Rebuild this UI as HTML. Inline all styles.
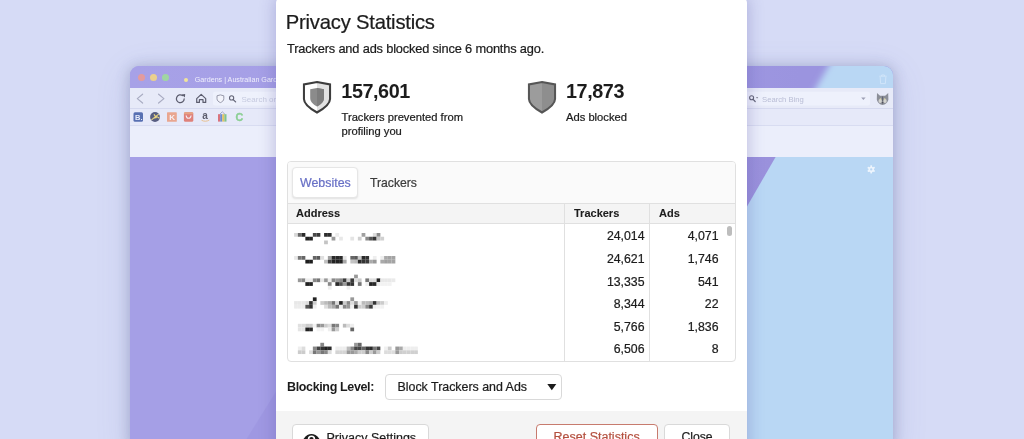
<!DOCTYPE html>
<html><head><meta charset="utf-8"><title>Privacy Statistics</title>
<style>
html,body{margin:0;padding:0}
body{width:1024px;height:439px;overflow:hidden;position:relative;background:#d6dbf6;font-family:"Liberation Sans",Arial,sans-serif;color:#1b1b1b}
.a{position:absolute}
.t{position:absolute;white-space:nowrap;line-height:1;-webkit-text-stroke:0.22px currentColor}
#win{left:130px;top:66px;width:763px;height:380px;border-radius:9px 9px 0 0;overflow:hidden;background:#a59fe6;box-shadow:0 8px 34px 2px rgba(90,100,170,.13),0 1px 13px 1px rgba(70,80,130,.30)}
#modal{left:275.7px;top:-3px;width:471px;height:460px;background:#fff;border-radius:6px;box-shadow:0 0 16px 1px rgba(70,60,150,.28)}
.num{font-size:12.3px;color:#1c1c1c}
</style></head><body>

<div id="win" class="a">
  <!-- title bar gradient -->
  <div class="a" style="left:0;top:0;width:763px;height:23px;background:linear-gradient(90deg,#a7a1e7 0,#a39de5 420px,#9b94df 670px)"></div>
  <svg class="a" style="left:560px;top:0" width="203" height="23" viewBox="560 0 203 23"><defs><filter id="bl" x="-20%" y="-100%" width="140%" height="300%"><feGaussianBlur stdDeviation="3.2"/></filter></defs><polygon points="716,-30 800,-30 800,60 664,60" fill="#b9d7f4" filter="url(#bl)"/></svg>
  <div class="a" style="left:7.8px;top:8px;width:7px;height:7px;border-radius:50%;background:#e39b9e"></div>
  <div class="a" style="left:19.8px;top:8px;width:7px;height:7px;border-radius:50%;background:#ebd08d"></div>
  <div class="a" style="left:31.8px;top:8px;width:7px;height:7px;border-radius:50%;background:#a0d6a3"></div>
  <div class="a" style="left:53.7px;top:11.9px;width:4px;height:4px;border-radius:50%;background:#f1e49b"></div>
  <div class="t" style="left:64.8px;top:11.1px;font-size:7.15px;-webkit-text-stroke:0;color:#f0f0fd">Gardens | Australian Gardens</div>
  <!-- toolbar -->
  <div class="a" style="left:0;top:22px;width:763px;height:21px;background:#e7eaf8"></div>
  <div class="a" style="left:0;top:41.8px;width:763px;height:1px;background:#d5d9ef"></div>
  <div class="a" style="left:0;top:42.8px;width:763px;height:18px;background:#e6e9f9"></div>
  <div class="a" style="left:0;top:59.4px;width:763px;height:1px;background:#d8dcf1"></div>
  <div class="a" style="left:0;top:60.4px;width:763px;height:31px;background:#ebeefb"></div>
  <!-- page content -->
  <div class="a" style="left:0;top:90.5px;width:763px;height:300px;background:linear-gradient(90deg,#a59fe6 0,#a59fe6 25%,#9a91dc 84%)"></div>
  <svg class="a" style="left:0;top:90.5px" width="763" height="300"><polygon points="645.6,0 763,0 763,300 472.5,300" fill="#b9d7f4"/></svg>
</div>

<svg class="a" style="left:230px;top:380px" width="50" height="60" viewBox="230 380 50 60"><polygon points="277,390 277,440 246,440" fill="#9c95e0" opacity=".7"/></svg>

<!-- browser chrome icons -->
<svg class="a" id="chrome" style="left:0;top:0" width="1024" height="200" viewBox="0 0 1024 200">
  <!-- url field -->
  <rect x="213" y="91.8" width="180" height="13.8" rx="2" fill="#eef1fc"/>
  <!-- search field -->
  <rect x="600" y="91.8" width="270" height="13.8" rx="2" fill="#eef1fc"/>
  <!-- back / forward -->
  <polyline points="142.6,94.2 137.3,98.6 142.6,103" fill="none" stroke="#a9acc2" stroke-width="1.2" stroke-linecap="round" stroke-linejoin="round"/>
  <polyline points="158.6,94.2 163.9,98.6 158.6,103" fill="none" stroke="#a9acc2" stroke-width="1.2" stroke-linecap="round" stroke-linejoin="round"/>
  <!-- reload -->
  <path d="M184.2,98.8 A3.9,3.9 0 1 1 182.6,95.6" fill="none" stroke="#5c5d6e" stroke-width="1.25" stroke-linecap="round"/>
  <path d="M181.6,94.4 L185.2,94 L184.9,97.6 Z" fill="#5c5d6e"/>
  <!-- home -->
  <path d="M196.7,98.6 L201.2,94.4 L205.7,98.6 L205.7,102.4 L203,102.4 L203,99.6 L199.4,99.6 L199.4,102.4 L196.7,102.4 Z" fill="none" stroke="#5c5d6e" stroke-width="1.2" stroke-linejoin="round"/>
  <!-- small shield -->
  <path d="M220.4,94.9 L223.8,95.8 L223.8,98.6 C223.8,100.6 222.3,101.8 220.4,102.6 C218.5,101.8 217,100.6 217,98.6 L217,95.8 Z" fill="#f3f4fb" stroke="#8d8fa0" stroke-width="0.9" stroke-linejoin="round"/>
  <!-- magnifier -->
  <circle cx="231.6" cy="97.9" r="2.1" fill="none" stroke="#636476" stroke-width="1.1"/>
  <line x1="233.2" y1="99.6" x2="235.6" y2="101.9" stroke="#636476" stroke-width="1.3" stroke-linecap="round"/>
  <text x="241.5" y="101.8" font-family="Liberation Sans, sans-serif" font-size="8" fill="#c6cadf">Search or</text>
  <!-- bookmarks -->
  <rect x="133.5" y="112.3" width="9.5" height="9.5" rx="1.5" fill="#5870b2"/>
  <text x="135" y="120.2" font-family="Liberation Sans, sans-serif" font-size="7.5" font-weight="700" fill="#e8ecfa">B.</text>
  <circle cx="155" cy="117" r="4.9" fill="#585e82"/>
  <path d="M151.8,119.6 L158.4,114.4 M154.2,114.6 L156.2,117.6 L153.2,118.2 M156.6,116.4 L159,118" fill="none" stroke="#ead684" stroke-width="1.1" stroke-linecap="round"/>
  <rect x="167" y="112.3" width="9.8" height="9.5" rx="0.6" fill="#e9a690"/>
  <text x="169.2" y="120.2" font-family="Liberation Sans, sans-serif" font-size="8" font-weight="700" fill="#f6f1f6">K</text>
  <rect x="183.9" y="112.3" width="9.4" height="9.5" rx="1.5" fill="#df817a"/>
  <rect x="183.9" y="112.3" width="9.4" height="2" rx="1" fill="#e6a283"/>
  <path d="M186.2,115.8 C186.8,119 190.4,119 191,115.8" fill="none" stroke="#f5ecf2" stroke-width="1.1" stroke-linecap="round"/>
  <text x="202.3" y="119.2" font-family="Liberation Sans, sans-serif" font-size="10" font-weight="700" fill="#5d5e6e">a</text>
  <path d="M201.8,120.4 C203.6,121.6 207,121.6 209,120.2" fill="none" stroke="#e9b877" stroke-width="0.8" stroke-linecap="round"/>
  <path d="M219.6,114.4 L222.3,111.8 L225,114.4" fill="none" stroke="#9aa0bc" stroke-width="0.9" stroke-linejoin="round"/>
  <rect x="218" y="114.2" width="2.2" height="7.4" fill="#da737d"/>
  <rect x="220.2" y="114.2" width="2.1" height="7.4" fill="#6d8cd2"/>
  <rect x="222.3" y="114.2" width="2.1" height="7.4" fill="#e3c45f"/>
  <rect x="224.4" y="114.2" width="2.1" height="7.4" fill="#80c38e"/>
  <text x="235.4" y="121" font-family="Liberation Sans, sans-serif" font-size="10.8" font-weight="700" fill="#8ccf95" stroke="#8ccf95" stroke-width="0.3">C</text>
  <!-- right side: search bing -->
  <circle cx="751.6" cy="97.8" r="2" fill="none" stroke="#636476" stroke-width="1.1"/>
  <line x1="753.1" y1="99.4" x2="755.2" y2="101.5" stroke="#636476" stroke-width="1.2" stroke-linecap="round"/>
  <path d="M756,97.2 L758.2,97.2 L757.1,98.5 Z" fill="#636476"/>
  <text x="762" y="101.6" font-family="Liberation Sans, sans-serif" font-size="7.7" fill="#b9bdd5">Search Bing</text>
  <path d="M861.2,97.6 L865.6,97.6 L863.4,100 Z" fill="#9c9fb4"/>
  <!-- cat avatar -->
  <path d="M877,93.1 L880,95.8 L885.2,95.8 L888.2,93.1 L888.4,99.5 C888,102.5 885,104.9 882.6,104.9 C880.2,104.9 877.2,102.5 876.8,99.5 Z" fill="#8b8e98"/>
  <ellipse cx="880.2" cy="101" rx="1.7" ry="2.1" fill="#d3d3cf"/><ellipse cx="885" cy="101" rx="1.7" ry="2.1" fill="#d3d3cf"/>
  <rect x="882.1" y="96.4" width="1" height="5" fill="#60626d"/>
  <circle cx="880.5" cy="99" r="0.8" fill="#ddd7a4"/><circle cx="884.7" cy="99" r="0.8" fill="#ddd7a4"/>
  <circle cx="882.6" cy="102.8" r="0.8" fill="#4a4b55"/>
  <!-- trash -->
  <path d="M879.6,76.2 L886.4,76.2 M881.6,76 L881.6,75 L884.4,75 L884.4,76 M880.2,77.4 L880.6,83.6 L885.4,83.6 L885.8,77.4" fill="none" stroke="#d2e5f9" stroke-width="0.9" stroke-linecap="round" stroke-linejoin="round"/>
  <!-- gear -->
  <g transform="translate(871.2,169.4) scale(0.88)" fill="#eef5fd">
    <circle r="3.1"/>
    <g><rect x="-1" y="-4.6" width="2" height="9.2" rx="0.5"/><rect x="-1" y="-4.6" width="2" height="9.2" rx="0.5" transform="rotate(60)"/><rect x="-1" y="-4.6" width="2" height="9.2" rx="0.5" transform="rotate(120)"/></g>
    <circle r="1.3" fill="#b9d7f4"/>
  </g>
</svg>

<div id="modal" class="a"></div>

<!-- heading -->
<div class="t" id="h1" style="left:285.8px;top:12px;font-size:20.2px;letter-spacing:-0.2px;color:#1c1c1c">Privacy Statistics</div>
<div class="t" id="sub" style="left:287px;top:42.7px;font-size:12.8px;letter-spacing:-0.16px;color:#1c1c1c">Trackers and ads blocked since 6 months ago.</div>

<!-- stats -->
<div class="t" id="n1" style="left:341.3px;top:82px;font-size:19.8px;font-weight:700;-webkit-text-stroke:0;letter-spacing:-0.42px;color:#1c1c1c">157,601</div>
<div class="t" id="l1a" style="left:341.5px;top:112.1px;font-size:11.2px;color:#1c1c1c">Trackers prevented from</div>
<div class="t" id="l1b" style="left:341.5px;top:126.2px;font-size:11.2px;color:#1c1c1c">profiling you</div>
<div class="t" id="n2" style="left:566px;top:82px;font-size:19.8px;font-weight:700;-webkit-text-stroke:0;letter-spacing:-0.42px;color:#1c1c1c">17,873</div>
<div class="t" id="l2" style="left:566px;top:112.1px;font-size:11.2px;color:#1c1c1c">Ads blocked</div>

<!-- shields -->
<svg class="a" style="left:301.7px;top:80px" width="30" height="35" viewBox="0 0 30 35">
  <path d="M15,2 L28.05,4.4 L28.05,19 C28.05,24.6 22,28.6 15,32.5 C8,28.6 1.95,24.6 1.95,19 L1.95,4.4 Z" fill="#fff"/>
  <path d="M15,2 L28.05,4.4 L28.05,19 C28.05,24.6 22,28.6 15,32.5 Z" fill="#e2e2e2"/>
  <path d="M15,8 L22,9.2 L22,18 C22,22 18.5,24.6 15,26.4 C11.5,24.6 8.2,22 8.2,18 L8.2,9.2 Z" fill="#8b8b8b"/>
  <path d="M15,8 L22,9.2 L22,18 C22,22 18.5,24.6 15,26.4 Z" fill="#7d7d7d"/>
  <path d="M15,2 L28.05,4.4 L28.05,19 C28.05,24.6 22,28.6 15,32.5 C8,28.6 1.95,24.6 1.95,19 L1.95,4.4 Z" fill="none" stroke="#3d3d3d" stroke-width="2.05" stroke-linejoin="miter"/>
</svg>
<svg class="a" style="left:526.6px;top:80.2px" width="30" height="35" viewBox="0 0 30 35">
  <path d="M15,2 L28.05,4.4 L28.05,19 C28.05,24.6 22,28.6 15,32.5 C8,28.6 1.95,24.6 1.95,19 L1.95,4.4 Z" fill="#9c9c9c"/>
  <path d="M15,2 L28.05,4.4 L28.05,19 C28.05,24.6 22,28.6 15,32.5 Z" fill="#8e8e8e"/>
  <path d="M15,2 L28.05,4.4 L28.05,19 C28.05,24.6 22,28.6 15,32.5 C8,28.6 1.95,24.6 1.95,19 L1.95,4.4 Z" fill="none" stroke="#565656" stroke-width="2.05" stroke-linejoin="miter"/>
</svg>

<!-- table box -->
<div class="a" id="box" style="left:286.5px;top:161px;width:447.8px;height:199px;border:1px solid #e0e0e0;border-radius:4px;background:#fff;overflow:hidden;box-sizing:content-box">
  <div class="a" style="left:0;top:0;width:448px;height:41px;background:#fafafa"></div>
  <div class="a" style="left:0;top:41px;width:448px;height:19px;background:#f4f4f4;border-top:1px solid #e0e0e0;border-bottom:1px solid #e0e0e0"></div>
  <div class="a" style="left:276.5px;top:42px;width:1px;height:160px;background:#e0e0e0"></div>
  <div class="a" style="left:361.5px;top:42px;width:1px;height:160px;background:#e0e0e0"></div>
  <div class="a" style="left:4.2px;top:4.7px;width:64px;height:29px;background:#fff;border:1px solid #e6e6e6;border-radius:4px;box-shadow:0 1px 2px rgba(0,0,0,.10);box-sizing:content-box"></div>
  <div class="a" style="left:439.2px;top:63.8px;width:5px;height:10px;border-radius:2.5px;background:#bdbdbd"></div>
</div>
<div class="t" id="tab1" style="left:300px;top:176.8px;font-size:12.4px;color:#6870c6">Websites</div>
<div class="t" id="tab2" style="left:370px;top:176.8px;font-size:12.2px;color:#3c3c3c">Trackers</div>
<div class="t" id="th1" style="-webkit-text-stroke:0.1px;left:296px;top:207.5px;font-size:11px;font-weight:700;color:#1c1c1c">Address</div>
<div class="t" id="th2" style="-webkit-text-stroke:0.1px;left:574px;top:207.5px;font-size:11px;font-weight:700;color:#1c1c1c">Trackers</div>
<div class="t" id="th3" style="-webkit-text-stroke:0.1px;left:659px;top:207.5px;font-size:11px;font-weight:700;color:#1c1c1c">Ads</div>
<div class="t num" style="right:379.5px;top:230.3px">24,014</div><div class="t num" style="right:305.5px;top:230.3px">4,071</div>
<div class="t num" style="right:379.5px;top:252.9px">24,621</div><div class="t num" style="right:305.5px;top:252.9px">1,746</div>
<div class="t num" style="right:379.5px;top:275.6px">13,335</div><div class="t num" style="right:305.5px;top:275.6px">541</div>
<div class="t num" style="right:379.5px;top:298.2px">8,344</div><div class="t num" style="right:305.5px;top:298.2px">22</div>
<div class="t num" style="right:379.5px;top:320.8px">5,766</div><div class="t num" style="right:305.5px;top:320.8px">1,836</div>
<div class="t num" style="right:379.5px;top:343.4px">6,506</div><div class="t num" style="right:305.5px;top:343.4px">8</div>

<!-- PIX -->
<svg class="a" id="pix" style="left:0;top:0;filter:blur(0.45px)" width="440" height="360" viewBox="0 0 440 360">
<rect x="294.10" y="233.00" width="3.75" height="3.75" fill="#d8d8d8"/>
<rect x="297.85" y="233.00" width="3.75" height="3.75" fill="#6a6a6a"/>
<rect x="301.60" y="233.00" width="3.75" height="3.75" fill="#2a2a2a"/>
<rect x="312.85" y="233.00" width="3.75" height="3.75" fill="#4a4a4a"/>
<rect x="316.60" y="233.00" width="3.75" height="3.75" fill="#3a3a3a"/>
<rect x="324.10" y="233.00" width="3.75" height="3.75" fill="#2e2e2e"/>
<rect x="327.85" y="233.00" width="3.75" height="3.75" fill="#2e2e2e"/>
<rect x="335.35" y="233.00" width="3.75" height="3.75" fill="#ececec"/>
<rect x="361.60" y="233.00" width="3.75" height="3.75" fill="#a0a0a0"/>
<rect x="372.85" y="233.00" width="3.75" height="3.75" fill="#dddddd"/>
<rect x="376.60" y="233.00" width="3.75" height="3.75" fill="#8c8c8c"/>
<rect x="305.35" y="236.75" width="3.75" height="3.75" fill="#222222"/>
<rect x="309.10" y="236.75" width="3.75" height="3.75" fill="#222222"/>
<rect x="331.60" y="236.75" width="3.75" height="3.75" fill="#9a9a9a"/>
<rect x="339.10" y="236.75" width="3.75" height="3.75" fill="#e8e8e8"/>
<rect x="350.35" y="236.75" width="3.75" height="3.75" fill="#e4e4e4"/>
<rect x="357.85" y="236.75" width="3.75" height="3.75" fill="#d0d0d0"/>
<rect x="365.35" y="236.75" width="3.75" height="3.75" fill="#8a8a8a"/>
<rect x="369.10" y="236.75" width="3.75" height="3.75" fill="#555555"/>
<rect x="372.85" y="236.75" width="3.75" height="3.75" fill="#333333"/>
<rect x="376.60" y="236.75" width="3.75" height="3.75" fill="#c8c8c8"/>
<rect x="380.35" y="236.75" width="3.75" height="3.75" fill="#d0d0d0"/>
<rect x="324.10" y="240.50" width="3.75" height="3.75" fill="#c4c4c4"/>
<rect x="294.10" y="256.00" width="3.75" height="3.75" fill="#e8e8e8"/>
<rect x="297.85" y="256.00" width="3.75" height="3.75" fill="#777777"/>
<rect x="301.60" y="256.00" width="3.75" height="3.75" fill="#666666"/>
<rect x="312.85" y="256.00" width="3.75" height="3.75" fill="#666666"/>
<rect x="316.60" y="256.00" width="3.75" height="3.75" fill="#5a5a5a"/>
<rect x="320.35" y="256.00" width="3.75" height="3.75" fill="#e0e0e0"/>
<rect x="327.85" y="256.00" width="3.75" height="3.75" fill="#a0a0a0"/>
<rect x="331.60" y="256.00" width="3.75" height="3.75" fill="#2a2a2a"/>
<rect x="335.35" y="256.00" width="3.75" height="3.75" fill="#2a2a2a"/>
<rect x="339.10" y="256.00" width="3.75" height="3.75" fill="#2a2a2a"/>
<rect x="342.85" y="256.00" width="3.75" height="3.75" fill="#e6e6e6"/>
<rect x="350.35" y="256.00" width="3.75" height="3.75" fill="#666666"/>
<rect x="354.10" y="256.00" width="3.75" height="3.75" fill="#5a5a5a"/>
<rect x="357.85" y="256.00" width="3.75" height="3.75" fill="#cccccc"/>
<rect x="361.60" y="256.00" width="3.75" height="3.75" fill="#2a2a2a"/>
<rect x="365.35" y="256.00" width="3.75" height="3.75" fill="#333333"/>
<rect x="372.85" y="256.00" width="3.75" height="3.75" fill="#eeeeee"/>
<rect x="380.35" y="256.00" width="3.75" height="3.75" fill="#eeeeee"/>
<rect x="384.10" y="256.00" width="3.75" height="3.75" fill="#aaaaaa"/>
<rect x="387.85" y="256.00" width="3.75" height="3.75" fill="#a4a4a4"/>
<rect x="391.60" y="256.00" width="3.75" height="3.75" fill="#a4a4a4"/>
<rect x="305.35" y="259.75" width="3.75" height="3.75" fill="#1e1e1e"/>
<rect x="309.10" y="259.75" width="3.75" height="3.75" fill="#1e1e1e"/>
<rect x="324.10" y="259.75" width="3.75" height="3.75" fill="#c0c0c0"/>
<rect x="327.85" y="259.75" width="3.75" height="3.75" fill="#444444"/>
<rect x="331.60" y="259.75" width="3.75" height="3.75" fill="#222222"/>
<rect x="335.35" y="259.75" width="3.75" height="3.75" fill="#222222"/>
<rect x="339.10" y="259.75" width="3.75" height="3.75" fill="#222222"/>
<rect x="342.85" y="259.75" width="3.75" height="3.75" fill="#a8a8a8"/>
<rect x="350.35" y="259.75" width="3.75" height="3.75" fill="#c4c4c4"/>
<rect x="354.10" y="259.75" width="3.75" height="3.75" fill="#bbbbbb"/>
<rect x="357.85" y="259.75" width="3.75" height="3.75" fill="#2a2a2a"/>
<rect x="361.60" y="259.75" width="3.75" height="3.75" fill="#333333"/>
<rect x="365.35" y="259.75" width="3.75" height="3.75" fill="#3a3a3a"/>
<rect x="369.10" y="259.75" width="3.75" height="3.75" fill="#aaaaaa"/>
<rect x="372.85" y="259.75" width="3.75" height="3.75" fill="#999999"/>
<rect x="380.35" y="259.75" width="3.75" height="3.75" fill="#aaaaaa"/>
<rect x="384.10" y="259.75" width="3.75" height="3.75" fill="#a0a0a0"/>
<rect x="387.85" y="259.75" width="3.75" height="3.75" fill="#a4a4a4"/>
<rect x="391.60" y="259.75" width="3.75" height="3.75" fill="#a4a4a4"/>
<rect x="354.10" y="274.65" width="3.75" height="3.75" fill="#999999"/>
<rect x="297.85" y="278.40" width="3.75" height="3.75" fill="#999999"/>
<rect x="301.60" y="278.40" width="3.75" height="3.75" fill="#888888"/>
<rect x="305.35" y="278.40" width="3.75" height="3.75" fill="#eeeeee"/>
<rect x="309.10" y="278.40" width="3.75" height="3.75" fill="#eeeeee"/>
<rect x="312.85" y="278.40" width="3.75" height="3.75" fill="#888888"/>
<rect x="316.60" y="278.40" width="3.75" height="3.75" fill="#777777"/>
<rect x="320.35" y="278.40" width="3.75" height="3.75" fill="#e8e8e8"/>
<rect x="324.10" y="278.40" width="3.75" height="3.75" fill="#999999"/>
<rect x="327.85" y="278.40" width="3.75" height="3.75" fill="#eeeeee"/>
<rect x="331.60" y="278.40" width="3.75" height="3.75" fill="#888888"/>
<rect x="335.35" y="278.40" width="3.75" height="3.75" fill="#999999"/>
<rect x="339.10" y="278.40" width="3.75" height="3.75" fill="#888888"/>
<rect x="342.85" y="278.40" width="3.75" height="3.75" fill="#3a3a3a"/>
<rect x="346.60" y="278.40" width="3.75" height="3.75" fill="#cccccc"/>
<rect x="350.35" y="278.40" width="3.75" height="3.75" fill="#3a3a3a"/>
<rect x="354.10" y="278.40" width="3.75" height="3.75" fill="#dddddd"/>
<rect x="357.85" y="278.40" width="3.75" height="3.75" fill="#cccccc"/>
<rect x="365.35" y="278.40" width="3.75" height="3.75" fill="#777777"/>
<rect x="369.10" y="278.40" width="3.75" height="3.75" fill="#dddddd"/>
<rect x="372.85" y="278.40" width="3.75" height="3.75" fill="#dddddd"/>
<rect x="376.60" y="278.40" width="3.75" height="3.75" fill="#222222"/>
<rect x="380.35" y="278.40" width="3.75" height="3.75" fill="#e8e8e8"/>
<rect x="384.10" y="278.40" width="3.75" height="3.75" fill="#e8e8e8"/>
<rect x="387.85" y="278.40" width="3.75" height="3.75" fill="#e8e8e8"/>
<rect x="391.60" y="278.40" width="3.75" height="3.75" fill="#eaeaea"/>
<rect x="305.35" y="282.15" width="3.75" height="3.75" fill="#222222"/>
<rect x="309.10" y="282.15" width="3.75" height="3.75" fill="#222222"/>
<rect x="327.85" y="282.15" width="3.75" height="3.75" fill="#888888"/>
<rect x="335.35" y="282.15" width="3.75" height="3.75" fill="#2a2a2a"/>
<rect x="339.10" y="282.15" width="3.75" height="3.75" fill="#555555"/>
<rect x="342.85" y="282.15" width="3.75" height="3.75" fill="#999999"/>
<rect x="346.60" y="282.15" width="3.75" height="3.75" fill="#333333"/>
<rect x="350.35" y="282.15" width="3.75" height="3.75" fill="#333333"/>
<rect x="357.85" y="282.15" width="3.75" height="3.75" fill="#777777"/>
<rect x="365.35" y="282.15" width="3.75" height="3.75" fill="#eeeeee"/>
<rect x="369.10" y="282.15" width="3.75" height="3.75" fill="#222222"/>
<rect x="372.85" y="282.15" width="3.75" height="3.75" fill="#2a2a2a"/>
<rect x="376.60" y="282.15" width="3.75" height="3.75" fill="#eeeeee"/>
<rect x="380.35" y="282.15" width="3.75" height="3.75" fill="#f2f2f2"/>
<rect x="384.10" y="282.15" width="3.75" height="3.75" fill="#f2f2f2"/>
<rect x="387.85" y="282.15" width="3.75" height="3.75" fill="#f2f2f2"/>
<rect x="327.85" y="285.90" width="3.75" height="3.75" fill="#eeeeee"/>
<rect x="346.60" y="285.90" width="3.75" height="3.75" fill="#eeeeee"/>
<rect x="312.85" y="297.35" width="3.75" height="3.75" fill="#222222"/>
<rect x="350.35" y="297.35" width="3.75" height="3.75" fill="#999999"/>
<rect x="294.10" y="301.10" width="3.75" height="3.75" fill="#e8e8e8"/>
<rect x="297.85" y="301.10" width="3.75" height="3.75" fill="#e8e8e8"/>
<rect x="301.60" y="301.10" width="3.75" height="3.75" fill="#e8e8e8"/>
<rect x="305.35" y="301.10" width="3.75" height="3.75" fill="#dddddd"/>
<rect x="309.10" y="301.10" width="3.75" height="3.75" fill="#333333"/>
<rect x="312.85" y="301.10" width="3.75" height="3.75" fill="#cccccc"/>
<rect x="320.35" y="301.10" width="3.75" height="3.75" fill="#cccccc"/>
<rect x="324.10" y="301.10" width="3.75" height="3.75" fill="#bbbbbb"/>
<rect x="327.85" y="301.10" width="3.75" height="3.75" fill="#aaaaaa"/>
<rect x="331.60" y="301.10" width="3.75" height="3.75" fill="#777777"/>
<rect x="335.35" y="301.10" width="3.75" height="3.75" fill="#dddddd"/>
<rect x="339.10" y="301.10" width="3.75" height="3.75" fill="#222222"/>
<rect x="342.85" y="301.10" width="3.75" height="3.75" fill="#cccccc"/>
<rect x="346.60" y="301.10" width="3.75" height="3.75" fill="#888888"/>
<rect x="350.35" y="301.10" width="3.75" height="3.75" fill="#dddddd"/>
<rect x="354.10" y="301.10" width="3.75" height="3.75" fill="#999999"/>
<rect x="357.85" y="301.10" width="3.75" height="3.75" fill="#f0f0f0"/>
<rect x="361.60" y="301.10" width="3.75" height="3.75" fill="#bbbbbb"/>
<rect x="365.35" y="301.10" width="3.75" height="3.75" fill="#bbbbbb"/>
<rect x="369.10" y="301.10" width="3.75" height="3.75" fill="#aaaaaa"/>
<rect x="372.85" y="301.10" width="3.75" height="3.75" fill="#333333"/>
<rect x="376.60" y="301.10" width="3.75" height="3.75" fill="#bbbbbb"/>
<rect x="380.35" y="301.10" width="3.75" height="3.75" fill="#cccccc"/>
<rect x="384.10" y="301.10" width="3.75" height="3.75" fill="#eeeeee"/>
<rect x="294.10" y="304.85" width="3.75" height="3.75" fill="#ececec"/>
<rect x="297.85" y="304.85" width="3.75" height="3.75" fill="#ececec"/>
<rect x="301.60" y="304.85" width="3.75" height="3.75" fill="#ececec"/>
<rect x="305.35" y="304.85" width="3.75" height="3.75" fill="#555555"/>
<rect x="309.10" y="304.85" width="3.75" height="3.75" fill="#333333"/>
<rect x="312.85" y="304.85" width="3.75" height="3.75" fill="#f0f0f0"/>
<rect x="324.10" y="304.85" width="3.75" height="3.75" fill="#dddddd"/>
<rect x="327.85" y="304.85" width="3.75" height="3.75" fill="#bbbbbb"/>
<rect x="331.60" y="304.85" width="3.75" height="3.75" fill="#aaaaaa"/>
<rect x="335.35" y="304.85" width="3.75" height="3.75" fill="#777777"/>
<rect x="339.10" y="304.85" width="3.75" height="3.75" fill="#f0f0f0"/>
<rect x="342.85" y="304.85" width="3.75" height="3.75" fill="#888888"/>
<rect x="346.60" y="304.85" width="3.75" height="3.75" fill="#999999"/>
<rect x="350.35" y="304.85" width="3.75" height="3.75" fill="#f0f0f0"/>
<rect x="354.10" y="304.85" width="3.75" height="3.75" fill="#333333"/>
<rect x="357.85" y="304.85" width="3.75" height="3.75" fill="#cccccc"/>
<rect x="361.60" y="304.85" width="3.75" height="3.75" fill="#cccccc"/>
<rect x="365.35" y="304.85" width="3.75" height="3.75" fill="#888888"/>
<rect x="369.10" y="304.85" width="3.75" height="3.75" fill="#3a3a3a"/>
<rect x="372.85" y="304.85" width="3.75" height="3.75" fill="#eeeeee"/>
<rect x="376.60" y="304.85" width="3.75" height="3.75" fill="#f2f2f2"/>
<rect x="380.35" y="304.85" width="3.75" height="3.75" fill="#f2f2f2"/>
<rect x="297.85" y="323.80" width="3.75" height="3.75" fill="#e0e0e0"/>
<rect x="301.60" y="323.80" width="3.75" height="3.75" fill="#dddddd"/>
<rect x="305.35" y="323.80" width="3.75" height="3.75" fill="#cccccc"/>
<rect x="309.10" y="323.80" width="3.75" height="3.75" fill="#cccccc"/>
<rect x="312.85" y="323.80" width="3.75" height="3.75" fill="#f2f2f2"/>
<rect x="316.60" y="323.80" width="3.75" height="3.75" fill="#888888"/>
<rect x="320.35" y="323.80" width="3.75" height="3.75" fill="#999999"/>
<rect x="324.10" y="323.80" width="3.75" height="3.75" fill="#cccccc"/>
<rect x="327.85" y="323.80" width="3.75" height="3.75" fill="#dddddd"/>
<rect x="331.60" y="323.80" width="3.75" height="3.75" fill="#777777"/>
<rect x="335.35" y="323.80" width="3.75" height="3.75" fill="#888888"/>
<rect x="342.85" y="323.80" width="3.75" height="3.75" fill="#bbbbbb"/>
<rect x="346.60" y="323.80" width="3.75" height="3.75" fill="#dddddd"/>
<rect x="350.35" y="323.80" width="3.75" height="3.75" fill="#eeeeee"/>
<rect x="297.85" y="327.55" width="3.75" height="3.75" fill="#e4e4e4"/>
<rect x="301.60" y="327.55" width="3.75" height="3.75" fill="#e4e4e4"/>
<rect x="305.35" y="327.55" width="3.75" height="3.75" fill="#222222"/>
<rect x="309.10" y="327.55" width="3.75" height="3.75" fill="#2a2a2a"/>
<rect x="316.60" y="327.55" width="3.75" height="3.75" fill="#f4f4f4"/>
<rect x="320.35" y="327.55" width="3.75" height="3.75" fill="#f4f4f4"/>
<rect x="327.85" y="327.55" width="3.75" height="3.75" fill="#eeeeee"/>
<rect x="331.60" y="327.55" width="3.75" height="3.75" fill="#999999"/>
<rect x="335.35" y="327.55" width="3.75" height="3.75" fill="#cccccc"/>
<rect x="350.35" y="327.55" width="3.75" height="3.75" fill="#666666"/>
<rect x="320.35" y="342.80" width="3.75" height="3.75" fill="#888888"/>
<rect x="354.10" y="342.80" width="3.75" height="3.75" fill="#999999"/>
<rect x="357.85" y="342.80" width="3.75" height="3.75" fill="#666666"/>
<rect x="297.85" y="346.55" width="3.75" height="3.75" fill="#eeeeee"/>
<rect x="301.60" y="346.55" width="3.75" height="3.75" fill="#dddddd"/>
<rect x="312.85" y="346.55" width="3.75" height="3.75" fill="#888888"/>
<rect x="316.60" y="346.55" width="3.75" height="3.75" fill="#444444"/>
<rect x="320.35" y="346.55" width="3.75" height="3.75" fill="#333333"/>
<rect x="324.10" y="346.55" width="3.75" height="3.75" fill="#222222"/>
<rect x="327.85" y="346.55" width="3.75" height="3.75" fill="#2a2a2a"/>
<rect x="335.35" y="346.55" width="3.75" height="3.75" fill="#eeeeee"/>
<rect x="339.10" y="346.55" width="3.75" height="3.75" fill="#eeeeee"/>
<rect x="342.85" y="346.55" width="3.75" height="3.75" fill="#eeeeee"/>
<rect x="346.60" y="346.55" width="3.75" height="3.75" fill="#bbbbbb"/>
<rect x="350.35" y="346.55" width="3.75" height="3.75" fill="#888888"/>
<rect x="354.10" y="346.55" width="3.75" height="3.75" fill="#444444"/>
<rect x="357.85" y="346.55" width="3.75" height="3.75" fill="#444444"/>
<rect x="361.60" y="346.55" width="3.75" height="3.75" fill="#666666"/>
<rect x="365.35" y="346.55" width="3.75" height="3.75" fill="#333333"/>
<rect x="369.10" y="346.55" width="3.75" height="3.75" fill="#2a2a2a"/>
<rect x="372.85" y="346.55" width="3.75" height="3.75" fill="#777777"/>
<rect x="376.60" y="346.55" width="3.75" height="3.75" fill="#444444"/>
<rect x="384.10" y="346.55" width="3.75" height="3.75" fill="#f0f0f0"/>
<rect x="387.85" y="346.55" width="3.75" height="3.75" fill="#cccccc"/>
<rect x="395.35" y="346.55" width="3.75" height="3.75" fill="#999999"/>
<rect x="399.10" y="346.55" width="3.75" height="3.75" fill="#aaaaaa"/>
<rect x="402.85" y="346.55" width="3.75" height="3.75" fill="#eeeeee"/>
<rect x="406.60" y="346.55" width="3.75" height="3.75" fill="#eeeeee"/>
<rect x="410.35" y="346.55" width="3.75" height="3.75" fill="#eeeeee"/>
<rect x="414.10" y="346.55" width="3.75" height="3.75" fill="#eeeeee"/>
<rect x="297.85" y="350.30" width="3.75" height="3.75" fill="#cccccc"/>
<rect x="301.60" y="350.30" width="3.75" height="3.75" fill="#cccccc"/>
<rect x="309.10" y="350.30" width="3.75" height="3.75" fill="#dddddd"/>
<rect x="312.85" y="350.30" width="3.75" height="3.75" fill="#777777"/>
<rect x="316.60" y="350.30" width="3.75" height="3.75" fill="#999999"/>
<rect x="320.35" y="350.30" width="3.75" height="3.75" fill="#777777"/>
<rect x="324.10" y="350.30" width="3.75" height="3.75" fill="#888888"/>
<rect x="327.85" y="350.30" width="3.75" height="3.75" fill="#dddddd"/>
<rect x="335.35" y="350.30" width="3.75" height="3.75" fill="#d4d4d4"/>
<rect x="339.10" y="350.30" width="3.75" height="3.75" fill="#d4d4d4"/>
<rect x="342.85" y="350.30" width="3.75" height="3.75" fill="#d4d4d4"/>
<rect x="346.60" y="350.30" width="3.75" height="3.75" fill="#999999"/>
<rect x="350.35" y="350.30" width="3.75" height="3.75" fill="#999999"/>
<rect x="354.10" y="350.30" width="3.75" height="3.75" fill="#aaaaaa"/>
<rect x="357.85" y="350.30" width="3.75" height="3.75" fill="#cccccc"/>
<rect x="361.60" y="350.30" width="3.75" height="3.75" fill="#cccccc"/>
<rect x="365.35" y="350.30" width="3.75" height="3.75" fill="#888888"/>
<rect x="369.10" y="350.30" width="3.75" height="3.75" fill="#cccccc"/>
<rect x="372.85" y="350.30" width="3.75" height="3.75" fill="#999999"/>
<rect x="376.60" y="350.30" width="3.75" height="3.75" fill="#cccccc"/>
<rect x="384.10" y="350.30" width="3.75" height="3.75" fill="#dddddd"/>
<rect x="387.85" y="350.30" width="3.75" height="3.75" fill="#dddddd"/>
<rect x="391.60" y="350.30" width="3.75" height="3.75" fill="#dddddd"/>
<rect x="395.35" y="350.30" width="3.75" height="3.75" fill="#999999"/>
<rect x="399.10" y="350.30" width="3.75" height="3.75" fill="#cccccc"/>
<rect x="402.85" y="350.30" width="3.75" height="3.75" fill="#d0d0d0"/>
<rect x="406.60" y="350.30" width="3.75" height="3.75" fill="#d0d0d0"/>
<rect x="410.35" y="350.30" width="3.75" height="3.75" fill="#d0d0d0"/>
<rect x="414.10" y="350.30" width="3.75" height="3.75" fill="#d0d0d0"/>
</svg>
<!-- /PIX -->

<!-- blocking level -->
<div class="t" id="bl" style="left:287px;top:381px;font-size:12.5px;font-weight:700;-webkit-text-stroke:0;letter-spacing:-0.36px;color:#1c1c1c">Blocking Level:</div>
<div class="a" style="left:385px;top:373.7px;width:175.4px;height:24.2px;border:1px solid #d9d9d9;border-radius:4px;background:#fff"></div>
<div class="t" id="sel" style="left:397.5px;top:381px;font-size:12.4px;color:#1c1c1c">Block Trackers and Ads</div>
<svg class="a" style="left:547px;top:384.3px" width="10" height="7"><polygon points="0.3,0 9.3,0 4.8,6.2" fill="#1c1c1c"/></svg>

<!-- footer -->
<div class="a" style="left:276px;top:411px;width:471px;height:40px;background:#f4f4f4"></div>
<div class="a" style="left:292px;top:424.3px;width:134.6px;height:30px;border:1px solid #d9d9d9;border-radius:4px;background:#fff"></div>
<div class="a" style="left:536px;top:423.8px;width:119.6px;height:30px;border:1.5px solid #c77b6e;border-radius:4px;background:#fff"></div>
<div class="a" style="left:664px;top:424.3px;width:64px;height:30px;border:1px solid #d9d9d9;border-radius:4px;background:#fff"></div>
<svg class="a" style="left:303.4px;top:432.5px" width="17.6" height="12" viewBox="0 0 17 12" preserveAspectRatio="none"><path d="M0.5,6 C3,2 5.6,0.9 8.2,0.9 C10.8,0.9 13.4,2 15.9,6 C13.4,10 10.8,11.1 8.2,11.1 C5.6,11.1 3,10 0.5,6 Z" fill="#1c1c1c"/><circle cx="8.2" cy="6" r="3.6" fill="#fff"/><circle cx="8.2" cy="6" r="2" fill="#1c1c1c"/></svg>
<div class="t" id="b1" style="left:326.5px;top:432.2px;font-size:12.5px;color:#1c1c1c">Privacy Settings</div>
<div class="t" id="b2" style="left:553.5px;top:431px;font-size:12.5px;color:#b4503f">Reset Statistics</div>
<div class="t" id="b3" style="left:681.4px;top:430.9px;font-size:12.2px;color:#1c1c1c">Close</div>

</body></html>
